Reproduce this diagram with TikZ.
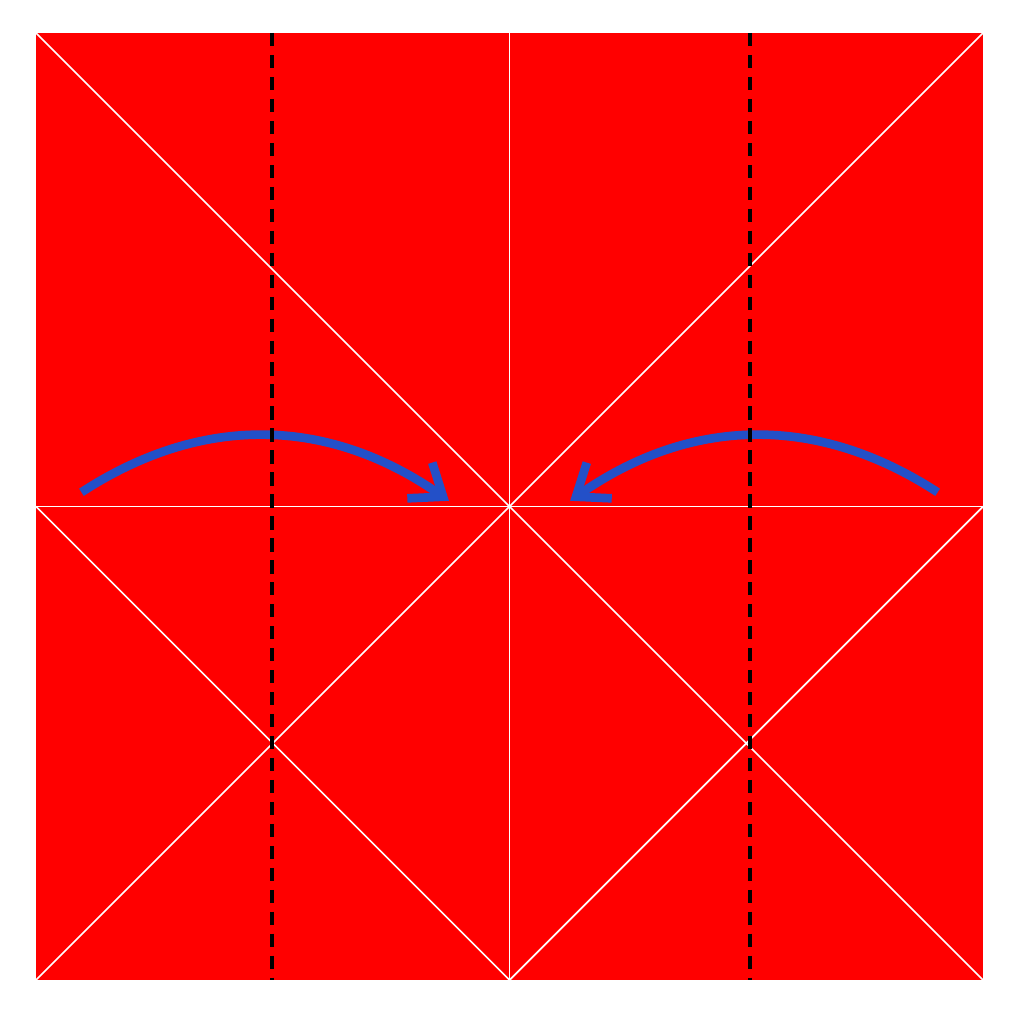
\documentclass[tikz,border=0pt]{standalone}
\usetikzlibrary{arrows.meta}

\definecolor{paperred}{RGB}{255,0,0}
\definecolor{foldblue}{RGB}{35,80,200}

\tikzset{
  crease/.style={white,line width=0.5pt},
  foldline/.style={black,line width=1.1pt,dash pattern=on 4pt off 2.6pt},
  foldarrow/.style={foldblue,line width=2.6pt,
    -{Straight Barb[sharp,length=3mm,width=4.6mm]}}
}

\newcommand{\papersquare}{
  \coordinate (s1) at (0,0);
  \coordinate (s2) at (10,0);
  \coordinate (s3) at (10,10);
  \coordinate (s4) at (0,10);
  \coordinate (m) at (5,5);
  \coordinate (mb) at (5,0);
  \coordinate (mt) at (5,10);
  \coordinate (ml) at (0,5);
  \coordinate (mr) at (10,5);

  \fill [paperred] (s1) rectangle (s3);

  \draw [crease] (mb) -- (mt);
  \draw [crease] (ml) -- (mr);
  \draw [crease] (s4) -- (m) -- (s3);
  \draw [crease] (ml) -- (mb) -- (mr);
  \draw [crease] (s1) -- (m) -- (s2);
}

\begin{document}
\begin{tikzpicture}
  \useasboundingbox (-0.38,-0.464) rectangle (10.264,10.348);
  \papersquare

  \coordinate (a1) at (0.48,5.15);
  \coordinate (a2) at (4.36,5.06);
  \coordinate (b1) at (9.52,5.15);
  \coordinate (b2) at (5.64,5.06);

  \draw [foldarrow] (a1) .. controls (1.77,5.99) and (3.10,5.94) .. (a2);
  \draw [foldarrow] (b1) .. controls (8.23,5.99) and (6.90,5.94) .. (b2);

  \coordinate (d1) at (2.49,0);
  \coordinate (d2) at (2.49,10);
  \coordinate (e1) at (7.54,0);
  \coordinate (e2) at (7.54,10);

  \draw [foldline] (d2) -- (d1);
  \draw [foldline] (e2) -- (e1);
\end{tikzpicture}
\end{document}
